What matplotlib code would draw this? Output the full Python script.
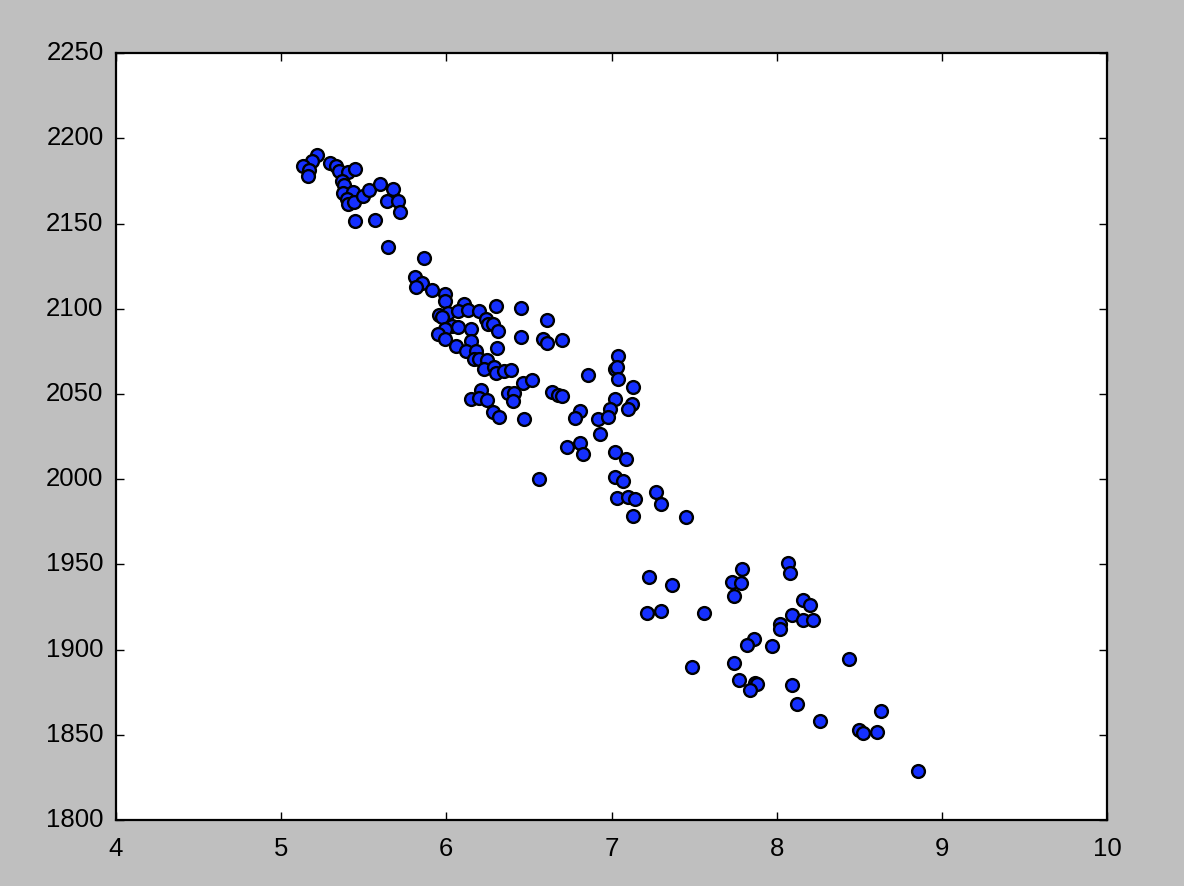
"""
Scatter plot in the old matplotlib look
"""

import matplotlib
matplotlib.use('Agg')
import matplotlib.pyplot as plt

# Data
x_vals = [
    5.218, 5.185, 5.134, 5.170, 5.160, 5.296, 5.330, 5.350, 5.407, 5.449,
    5.366, 5.380, 5.372, 5.437, 5.400, 5.407, 5.443, 5.497, 5.530, 5.596,
    5.679, 5.638, 5.705, 5.717, 5.449, 5.568, 5.645, 5.865,
    5.808, 5.851, 5.816, 5.911, 5.992, 5.992, 6.109, 6.299, 6.450, 5.957,
    6.008, 6.072, 6.129, 6.197, 6.240, 6.254, 6.284, 6.311, 6.607, 5.971,
    6.032, 6.068, 6.149, 5.992, 5.947, 5.992, 6.149, 6.304, 6.060, 6.119,
    6.180, 6.169, 6.200, 6.248, 6.230, 6.290, 6.301, 6.351, 6.391, 6.450,
    6.466, 6.518, 6.208, 6.147, 6.200, 6.248, 6.375, 6.411, 6.401, 6.280,
    6.319, 6.468, 6.637, 6.677,
    6.587, 6.611, 6.698, 7.037, 7.021, 7.031, 7.041, 6.859, 7.128, 6.698,
    7.021, 6.991, 7.122, 7.101, 6.809, 6.781, 6.918, 6.981, 6.930, 6.809,
    6.729, 6.829, 7.020, 7.090, 6.559, 7.021, 7.072, 7.031, 7.101, 7.142,
    7.269, 7.297, 7.128, 7.451,
    7.229, 7.368, 7.217, 7.300, 7.560, 7.790, 7.731, 7.782, 7.741, 8.070,
    8.080, 8.159, 8.201, 8.090, 8.159, 8.222, 8.021, 8.021, 7.861, 7.820,
    7.972, 7.489, 7.741, 8.440, 7.769, 7.870, 7.880, 7.840, 8.090, 8.121,
    8.260, 8.633, 8.498, 8.520, 8.609, 8.856,
]
y_vals = [
    2190.2, 2186.8, 2183.9, 2181.4, 2177.9, 2185.5, 2183.7, 2181.0, 2180.3, 2182.2,
    2175.0, 2172.6, 2168.0, 2168.5, 2164.6, 2161.4, 2162.7, 2166.1, 2169.6, 2173.1,
    2170.4, 2163.5, 2163.3, 2156.7, 2151.8, 2152.0, 2136.5, 2129.7,
    2118.8, 2115.2, 2112.7, 2111.3, 2108.8, 2104.5, 2102.7, 2101.7, 2100.2, 2096.3,
    2097.5, 2098.5, 2099.1, 2098.5, 2094.2, 2091.3, 2091.3, 2087.2, 2093.7, 2095.0,
    2089.8, 2089.4, 2087.9, 2087.9, 2085.0, 2082.3, 2081.1, 2077.2, 2078.2, 2075.4,
    2075.1, 2070.8, 2070.5, 2070.2, 2064.9, 2065.8, 2062.3, 2063.3, 2063.9, 2083.5,
    2056.5, 2058.1, 2052.3, 2047.0, 2047.4, 2046.4, 2050.7, 2050.3, 2045.8, 2039.5,
    2036.5, 2035.6, 2051.2, 2049.4,
    2082.5, 2079.9, 2081.7, 2072.3, 2064.9, 2065.8, 2058.6, 2061.0, 2054.1, 2048.8,
    2047.0, 2041.3, 2044.4, 2041.3, 2040.1, 2036.0, 2035.3, 2036.3, 2026.5, 2021.3,
    2019.0, 2015.0, 2016.0, 2011.9, 2000.0, 2001.0, 1999.2, 1989.0, 1989.6, 1988.4,
    1992.5, 1985.7, 1978.4, 1977.8,
    1942.4, 1938.1, 1921.4, 1922.8, 1921.3, 1947.4, 1939.4, 1938.8, 1931.4, 1950.9,
    1944.7, 1929.1, 1926.1, 1920.4, 1917.2, 1917.2, 1915.0, 1911.9, 1906.2, 1902.7,
    1902.1, 1889.6, 1892.4, 1894.7, 1882.1, 1880.6, 1879.8, 1876.1, 1879.2, 1868.1,
    1858.3, 1864.0, 1852.8, 1850.9, 1851.5, 1828.7,
]
x_ticks = [4, 5, 6, 7, 8, 9, 10]
y_ticks = [1800, 1850, 1900, 1950, 2000, 2050, 2100, 2150, 2200, 2250]

plt.style.use('classic')
plt.rcParams['font.family'] = ['Liberation Sans', 'DejaVu Sans']

fig = plt.figure(figsize=(11.84, 8.86), dpi=100, facecolor='#bfbfbf')
ax = fig.add_axes([0.098, 0.0745, 0.837, 0.8655])

ax.scatter(x_vals, y_vals, s=85, c='#1530ff', edgecolors='black', linewidths=1.7, zorder=3)

ax.set_xlim(4, 10)
ax.set_ylim(1800, 2250)
ax.set_xticks(x_ticks)
ax.set_yticks(y_ticks)
ax.tick_params(direction='in', length=6, width=1, labelsize=18.5,
               top=True, right=True)
ax.tick_params(axis='x', pad=12)
ax.tick_params(axis='y', pad=9)
for spine in ax.spines.values():
    spine.set_linewidth(1.6)

fig.savefig('out.png', dpi=100, facecolor=fig.get_facecolor())
